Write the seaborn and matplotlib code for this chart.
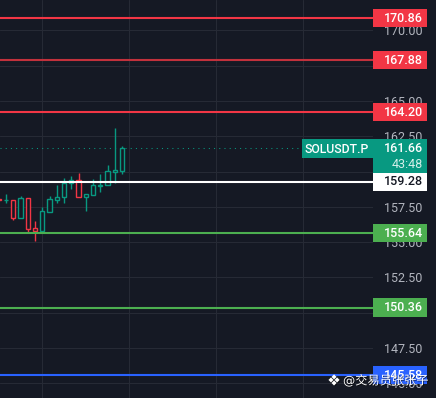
import numpy as np
import pandas as pd
import seaborn as sns
import matplotlib
matplotlib.use("Agg")
import matplotlib.pyplot as plt
from matplotlib.patches import Rectangle
from matplotlib import transforms
import matplotlib.patheffects as pe

# ---------------- data ----------------
candle_idx = list(range(18))
opens  = [158.05, 157.96, 157.98, 156.73, 158.10, 155.98, 155.81, 157.11, 158.00,
          158.17, 159.16, 159.38, 158.17, 158.36, 158.97, 159.02, 159.99, 160.06]
highs  = [158.10, 158.41, 157.98, 158.27, 158.10, 156.49, 157.46, 158.27, 159.04,
          159.54, 159.68, 159.92, 158.39, 159.47, 159.82, 160.46, 163.08, 161.81]
lows   = [157.92, 157.75, 156.57, 156.73, 155.67, 155.10, 155.81, 157.11, 157.79,
          157.79, 158.74, 158.17, 157.22, 158.36, 158.57, 159.02, 159.21, 159.80]
closes = [157.97, 158.00, 156.73, 158.10, 155.95, 155.81, 157.20, 158.05, 158.17,
          159.19, 159.38, 158.17, 158.39, 159.02, 159.04, 160.04, 160.11, 161.66]

level_values = [170.86, 167.88, 164.20, 159.28, 155.64, 150.36, 145.58]
level_labels = ["170.86", "167.88", "164.20", "159.28", "155.64", "150.36", "145.58"]
level_line_colors = ["#f23645", "#c2313c", "#f23645", "#ffffff", "#4caf50", "#4caf50", "#2962ff"]
level_box_colors = ["#f23645", "#f23645", "#f23645", "#ffffff", "#4caf50", "#4caf50", "#2962ff"]
level_text_colors = ["#ffffff", "#ffffff", "#ffffff", "#131722", "#ffffff", "#ffffff", "#ffffff"]

ytick_values = [145.0, 147.5, 150.0, 152.5, 155.0, 157.5, 160.0, 162.5, 165.0, 167.5, 170.0]
ytick_labels = ["145.00", "147.50", "", "152.50", "155.00", "157.50",
                "", "162.50", "165.00", "", "170.00"]
xgrid_positions = [6, 18, 30, 42]

symbol = "SOLUSDT.P"
last_price = 161.66
last_price_label = "161.66"
countdown = "43:48"
watermark = "@交易员张张子"

# ---------------- style ----------------
BG = "#151924"
GRID = "#262a35"
TXT = "#b2b5be"
UP = "#089981"
DOWN = "#f23645"

sns.set_theme(style="dark", rc={
    "figure.facecolor": BG, "axes.facecolor": BG, "savefig.facecolor": BG,
    "axes.edgecolor": BG, "grid.color": GRID, "text.color": TXT,
    "xtick.color": TXT, "ytick.color": TXT,
})
plt.rcParams["font.family"] = ["Roboto", "DejaVu Sans", "Noto Sans CJK SC"]

W, H = 436, 398
fig = plt.figure(figsize=(W / 100, H / 100), dpi=100)
ax = fig.add_axes([0, 0, 373 / W, 1])
ax.set_facecolor(BG)

ax.set_xlim(0.17, 51.62)
ax.set_ylim(143.96, 172.15)

# grid
ax.set_yticks(ytick_values)
ax.set_yticklabels(ytick_labels)
ax.set_xticks(xgrid_positions)
ax.set_xticklabels([])
ax.grid(True, color=GRID, linewidth=0.8)
ax.yaxis.tick_right()
ax.tick_params(axis="y", length=0, pad=8, labelsize=9, labelcolor=TXT)
ax.tick_params(axis="x", length=0)
for s in ax.spines.values():
    s.set_visible(False)

# candles
df = pd.DataFrame({"i": candle_idx, "o": opens, "h": highs, "l": lows, "c": closes})
df["col"] = np.where(df["c"] >= df["o"], UP, DOWN)
ax.vlines(df["i"], df["l"], df["h"], colors=df["col"], linewidth=1.0, zorder=3)
bottoms = np.minimum(df["o"], df["c"])
heights = np.abs(df["c"] - df["o"])
ax.bar(df["i"], heights, bottom=bottoms, width=0.6, facecolor=BG,
       edgecolor=df["col"], linewidth=1.0, zorder=4)

# current price dotted line
ax.axhline(last_price, xmin=0, xmax=301 / 373, color=UP, linewidth=0.75,
           linestyle=(0, (1, 4)), zorder=2)

# horizontal levels
for v, lc in zip(level_values, level_line_colors):
    ax.axhline(v, color=lc, linewidth=1.5, zorder=5)

# label boxes on the price scale
tr = transforms.blended_transform_factory(fig.transFigure, ax.transData)
box_h = 1.3
for v, lab, bc, tc in zip(level_values, level_labels, level_box_colors, level_text_colors):
    fig.add_artist(Rectangle((373 / W, v - box_h / 2), 54 / W, box_h, transform=tr,
                             facecolor=bc, edgecolor="none", zorder=2))
    fig.text(423 / W, v, lab, transform=tr, ha="right", va="center",
             color=tc, fontsize=9, fontweight="medium", zorder=3)

# current price box
fig.add_artist(Rectangle((373 / W, 159.87), 54 / W, 162.28 - 159.87, transform=tr,
                         facecolor=UP, edgecolor="none", zorder=2))
fig.text(423 / W, last_price, last_price_label, transform=tr, ha="right", va="center",
         color="white", fontsize=9, fontweight="medium", zorder=3)
fig.text(423 / W, 160.53, countdown, transform=tr, ha="right", va="center",
         color="#d6efe9", fontsize=9, zorder=3)
fig.add_artist(Rectangle((302 / W, 160.93), 70.5 / W, 162.28 - 160.93, transform=tr,
                         facecolor=UP, edgecolor="none", zorder=2))
fig.text(337 / W, 161.58, symbol, transform=tr, ha="center", va="center",
         color="white", fontsize=8.8, fontweight="medium", zorder=3)

# watermark
shadow = [pe.withSimplePatchShadow(offset=(0.6, -0.6), shadow_rgbFace="black", alpha=0.6)]
fig.text(334 / W, 1 - 381 / H, "❖", ha="center", va="center", color="white",
         fontsize=11, family=["DejaVu Sans"], zorder=6, path_effects=shadow)
fig.text(343 / W, 1 - 381 / H, watermark, ha="left", va="center", color="white",
         fontsize=8.8, family=["DejaVu Sans", "Noto Sans CJK SC"], zorder=6,
         path_effects=shadow)

fig.savefig("out.png", dpi=100, facecolor=BG)
